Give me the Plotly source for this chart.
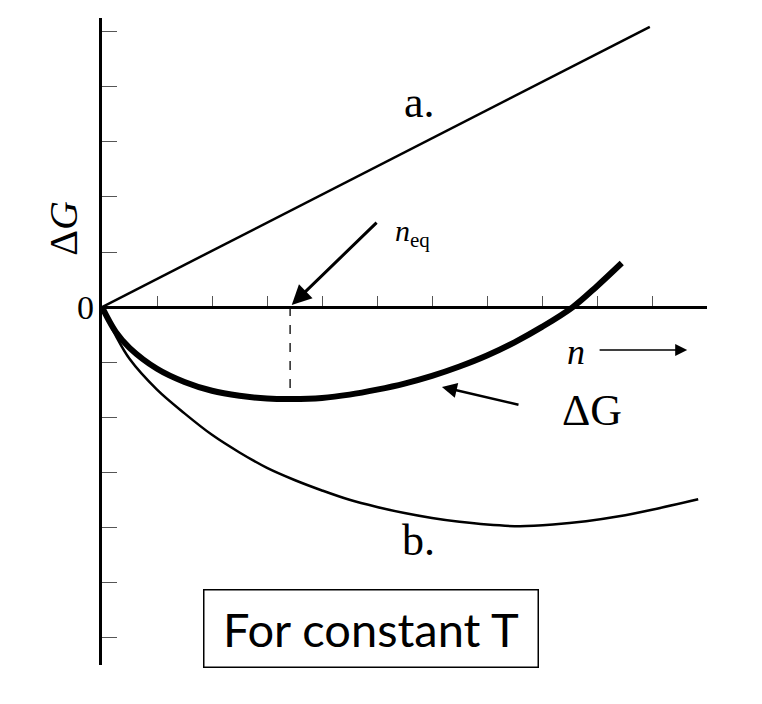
import plotly.graph_objects as go

# values (1 unit = one tick spacing)
n_line_a = [0, 9.96]
g_line_a = [0, 5.09]

n_dg = [0, 0.25, 0.5, 1.0, 1.5, 2.0, 2.5, 3.0, 3.45, 4.0, 4.5, 5.0, 5.5, 6.0, 6.5, 7.0, 7.5, 8.0, 8.56, 9.0, 9.45]
g_dg = [0, -0.45, -0.74, -1.12, -1.36, -1.52, -1.61, -1.66, -1.67, -1.65, -1.59, -1.5, -1.39, -1.25, -1.08, -0.88, -0.64, -0.36, 0, 0.38, 0.8]

n_b = [0, 0.25, 0.5, 1.0, 1.5, 2.0, 2.5, 3.0, 3.5, 4.0, 4.5, 5.0, 5.5, 6.0, 6.5, 7.0, 7.6, 8.2, 8.8, 9.4, 10.0, 10.84]
g_b = [0, -0.52, -0.94, -1.5, -1.93, -2.32, -2.64, -2.92, -3.14, -3.33, -3.5, -3.63, -3.74, -3.83, -3.9, -3.95, -3.98, -3.95, -3.89, -3.8, -3.68, -3.49]

n_eq = 3.42
g_min = -1.62

y_ticks = [-6, -5, -4, -3, -2, -1, 1, 2, 3, 4, 5]
x_ticks = [1, 2, 3, 4, 5, 6, 7, 8, 9, 10]

serif = "Liberation Serif"

fig = go.Figure()
fig.add_trace(go.Scatter(x=n_line_a, y=g_line_a, mode="lines",
                         line=dict(color="black", width=2.5), cliponaxis=False))
fig.add_trace(go.Scatter(x=n_b, y=g_b, mode="lines", line_shape="spline",
                         line=dict(color="black", width=2.5), cliponaxis=False))
fig.add_trace(go.Scatter(x=n_dg, y=g_dg, mode="lines", line_shape="spline",
                         line=dict(color="black", width=6), cliponaxis=False))
fig.add_trace(go.Scatter(x=[n_eq, n_eq], y=[0, g_min], mode="lines",
                         line=dict(color="black", width=1.3, dash="dash")))

ymin, ymax = -6.5, 5.25

# page body has an 8px margin, so the plot area is shifted back by 8px
fig.update_layout(
    width=762, height=704,
    margin=dict(l=94, r=63, t=10, b=47),
    paper_bgcolor="white", plot_bgcolor="white",
    showlegend=False,
    xaxis=dict(range=[0, 11], anchor="free", position=(0 - ymin) / (ymax - ymin),
               showline=True, linecolor="black", linewidth=2.5,
               ticks="inside", ticklen=10, tickwidth=1.2, tickcolor="#555",
               tickvals=x_ticks, showticklabels=False,
               showgrid=False, zeroline=False),
    yaxis=dict(range=[ymin, ymax],
               showline=True, linecolor="black", linewidth=3,
               ticks="inside", ticklen=15, tickwidth=1.2, tickcolor="#555",
               tickvals=y_ticks, showticklabels=False,
               showgrid=False, zeroline=False),
)

def label(text, x, y, size, **kw):
    fig.add_annotation(x=x, y=y, text=text, showarrow=False,
                       font=dict(family=serif, size=size, color="black"), **kw)

def arrow(x, y, ax, ay, head=2, size=1.2, width=2.5):
    fig.add_annotation(x=x, y=y, ax=ax, ay=ay, axref="x", ayref="y", text="",
                       showarrow=True, arrowhead=head, arrowsize=size,
                       arrowwidth=width, arrowcolor="black")

label("a.", 5.78, 3.71, 44)
label("b.", 5.75, -4.24, 44)
label("ΔG", 8.91, -1.87, 44)
label("<i>n</i><sub>eq</sub>", 5.64, 1.35, 30)
label("<i>n</i>", 8.62, -0.82, 36)
label("0", 0, 0, 34, xanchor="right", xshift=-6)
label("Δ<i>G</i>", -0.063, 1.44, 40, textangle=-90, xref="paper",
      xanchor="center", yanchor="middle")

arrow(3.45, 0.04, 5.02, 1.56, head=2, size=1.3, width=3)
arrow(10.64, -0.78, 9.02, -0.78, head=2, size=1.6, width=1.5)
arrow(6.18, -1.45, 7.6, -1.78, head=2, size=1.2, width=2.5)

fig.add_annotation(x=4.89, y=-5.84, text="For constant T", showarrow=False,
                   font=dict(family="Lato", size=47, color="black"),
                   width=333, height=76, borderpad=0,
                   bordercolor="black", borderwidth=1.5, bgcolor="white")

fig.write_html("out.html")
